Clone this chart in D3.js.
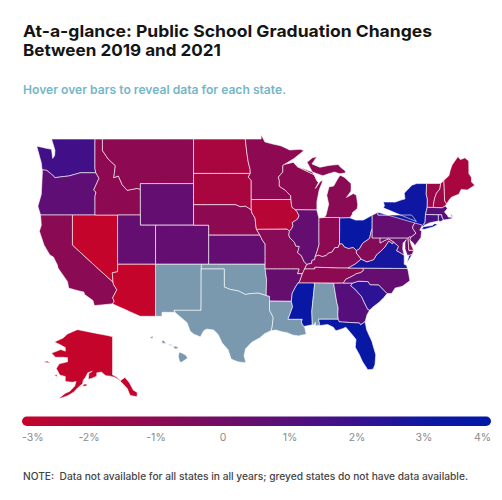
<!DOCTYPE html>
<html><head><meta charset="utf-8"><style>html,body{margin:0;padding:0;background:#fff}svg{display:block}</style>
<script src="https://d3js.org/d3.v7.min.js"></script></head><body><div id="c"></div>
<script>
// ---- chart data ----
const titleLines=["At-a-glance: Public School Graduation Changes","Between 2019 and 2021"];
const subtitle="Hover over bars to reveal data for each state.";
const note="NOTE:  Data not available for all states in all years; greyed states do not have data available.";
const legendValues=[-3,-2,-1,0,1,2,3,4];
const legendLabels=["-3%","-2%","-1%","0","1%","2%","3%","4%"];
const legendColors=["#c5042c","#a9063f","#8d0a52","#700d66","#560f7a","#381190","#0f17a2","#0019a8"];
const stateCodes=["WA","OR","CA","NV","ID","MT","WY","UT","AZ","CO","ND","SD","NE","KS","MN","IA","MO","WI","IL","IN","MI","OH","KY","TN","AR","MS","FL","GA","SC","NC","VA","WV","PA","NY","VT","NH","ME","MA","CT","RI","NJ","DE","MD","AK"];
const stateChanges=[1.7,0.7,-0.9,-3,-1,-1,0.5,0.5,-3,0.5,-2,-2,-1,0.5,-1,-2.5,-0.8,-1,0.5,-1,-0.9,3.5,-0.8,-1,0.4,3.5,3.5,1,2.3,0.5,2.8,-0.7,0.5,3,-1.5,-1.6,-2,1,1.5,1.5,0.4,-1.5,0.5,-3];
const greyStates=["NM","TX","OK","LA","AL","HI"];
const greyColor="#7b99ae";

// ---- geography (lon,lat) ----
const L=s=>s.trim().split(/\s+/).map(p=>p.split(",").map(Number));
const R=a=>a.slice().reverse();
const mnWi=L("-92.1,46.75 -92.29,46.66 -92.29,46.08 -92.88,45.6 -92.75,45.3 -92.75,44.75 -92,44.4 -91.25,43.85 -91.22,43.5");
const wiIa=L("-91.22,43.5 -91.15,43 -91.08,42.75 -90.64,42.51");
const ilIa=L("-90.64,42.51 -90.42,42.33 -90.15,41.93 -90.34,41.6 -91.05,41.25 -90.95,40.95 -91.12,40.67 -91.42,40.38");
const ilMo=L("-91.42,40.38 -91.5,40 -91.37,39.73 -90.73,39.25 -90.6,38.9 -90.12,38.85 -90.2,38.6 -90.35,38.2 -89.85,37.9 -89.5,37.3 -89.13,36.98");
const arTn=L("-89.7,36 -90.1,35.13 -90.3,35");
const arMs=L("-90.3,35 -90.6,34.6 -91.05,33.9 -91.17,33");
const laMs=L("-91.17,33 -91,32.4 -91.6,31 -89.73,31 -89.85,30.67 -89.55,30.18");
const ilKy=L("-89.13,36.98 -88.5,37.1 -88.45,37.4 -88.07,37.5 -88.03,37.8");
const inKy=L("-88.03,37.8 -87.6,37.95 -87.1,37.8 -86.6,37.9 -86.3,38.15 -85.8,38.27 -85.43,38.73 -85,38.75 -84.82,39.1");
const ohKy=L("-84.82,39.1 -84.45,39.1 -84.2,38.8 -83.65,38.63 -83,38.73 -82.6,38.42");
const ohWv=L("-82.6,38.42 -82.2,38.6 -81.75,39.2 -81,39.58 -80.85,39.7 -80.65,40.4 -80.52,40.64");
const kyWv=L("-82.6,38.42 -82.6,38.17 -81.97,37.54");
const kyVa=L("-81.97,37.54 -82.7,37.05 -83.68,36.6");
const kyTn=L("-83.68,36.6 -85,36.6 -86.5,36.65 -88.07,36.68 -88.07,36.5 -89.42,36.5");
const tnNc=L("-81.68,36.59 -81.7,36.3 -82.05,36.1 -82.6,36 -83.1,35.75 -84,35.4 -84.32,34.99");
const vaWv=L("-81.97,37.54 -81.2,37.25 -80.3,37.5 -79.95,38 -79.3,38.42 -78.87,38.77 -78.35,39.4 -77.83,39.13");
const mdVa=L("-77.83,39.13 -77.72,39.32 -77.05,38.85 -77.3,38.4 -76.95,38.27 -76.3,37.95");
const mdWv=L("-77.72,39.32 -78.35,39.63 -78.9,39.45 -79.48,39.2 -79.48,39.72");
const inIl=L("-88.03,37.8 -87.75,38.4 -87.5,39.1 -87.53,39.35 -87.53,41.71");
const mnNd=L("-97.23,49 -97.05,47.9 -96.85,47 -96.6,46.3 -96.57,45.94");
const mnSd=L("-96.57,45.94 -96.85,45.6 -96.45,45.3 -96.45,43.5");
const neSd=L("-104.05,43 -98.5,43 -97.9,42.8 -97.2,42.85 -96.45,42.5");
const neIa=L("-96.45,42.5 -96.35,42.2 -95.95,41.7 -95.85,41 -95.77,40.58");
const neMo=L("-95.77,40.58 -95.3,40");
const ksMo=L("-95.3,40 -95,39.5 -94.62,39.1 -94.62,37");
const mtId=L("-116.05,49 -116.05,48 -115.3,47.25 -114.35,46.65 -114.55,45.55 -113.95,45.7 -113.45,44.9 -112.8,44.37 -111.5,44.55 -111.05,44.47");
const waOr=L("-116.92,46 -118.98,46 -119.3,45.93 -120.5,45.7 -121.2,45.65 -122.3,45.55 -122.8,45.9 -123.4,46.22 -124,46.27");
const orId=L("-117.03,42 -117.03,43.8 -116.9,44.2 -117.2,44.4 -116.5,45.5 -116.92,46");
const caAz=L("-114.65,35.1 -114.6,34.85 -114.15,34.27 -114.7,33.4 -114.5,33 -114.72,32.72");
const nvAz=L("-114.05,37 -114.05,36.2 -114.75,36.1 -114.65,35.1");
const okTx=L("-103.04,36.5 -100,36.5 -100,34.56 -99.2,34.3 -98.1,34.13 -97.2,33.75 -96.6,33.85 -95.5,33.9 -94.48,33.64");
const arOk=L("-94.62,36.5 -94.43,35.4 -94.48,33.64");
const arTx=L("-94.48,33.64 -94.04,33.55 -94.04,33.02");
const laTx=L("-94.04,33.02 -94.04,32 -93.55,31.2 -93.7,30.1 -93.85,29.7");
const msAl=L("-88.2,35 -88.1,34.9 -88.47,31.9 -88.4,30.37");
const alGa=L("-85.6,34.98 -85.18,32.87 -85,32.3 -85.05,31.55 -85,31");
const alFl=L("-85,31 -87.6,31 -87.45,30.5 -87.52,30.28");
const gaFl=L("-85,31 -84.86,30.7 -82.2,30.57 -82.05,30.37 -81.45,30.72");
const gaSc=L("-83.1,35 -83.35,34.7 -82.8,34.35 -81.9,33.5 -81.4,32.6 -81.1,32.1 -80.85,32.03");
const scNc=L("-83.1,35 -82.3,35.2 -81.05,35.15 -80.8,34.82 -79.67,34.8 -78.55,33.86");
const paNj=L("-74.7,41.36 -75.1,41 -75.2,40.7 -74.75,40.2 -75.13,39.95 -75.42,39.8");
const njDe=L("-75.42,39.8 -75.55,39.5");
const deMd=L("-75.79,39.72 -75.7,38.46 -75.05,38.45");
const nyPa=L("-74.7,41.36 -75.05,41.75 -75.35,42 -79.76,42 -79.76,42.27");
const maNy=L("-73.27,42.75 -73.5,42.05");
const ctNy=L("-73.5,42.05 -73.55,41.3 -73.73,41.1 -73.65,41");
const ctMa=L("-73.5,42.05 -71.8,42.02");
const riMa=L("-71.8,42.02 -71.38,42.02 -71.33,41.78 -71.13,41.5");
const vtNy=L("-73.35,45.01 -73.4,44 -73.25,43.55 -73.27,42.75");
const vtNh=L("-71.5,45.01 -71.6,44.5 -72.05,44.1 -72.3,43.6 -72.45,43 -72.46,42.73");
const maNh=L("-72.46,42.73 -71.3,42.7 -70.9,42.88");
const nhMe=L("-71.08,45.3 -71.03,44.65 -70.98,43.4 -70.72,43.08 -70.9,42.88");
const ohMi=L("-84.8,41.7 -83.45,41.73");
const inMi=L("-86.82,41.76 -84.8,41.76 -84.8,41.7");
const wiMi=L("-90.4,46.57 -89.1,46.13 -88.1,45.8 -87.85,45.35 -87.6,45.1");

const shapes={
WA:[[...L("-124.7,48.38 -123.1,48.15 -122.75,48.1 -122.6,47.3 -122.35,47.55 -122.3,48 -122.5,48.45 -122.75,49 -117.03,49 -117.04,46.4"),...waOr,...L("-124.1,46.9")]],
OR:[[...R(waOr),...R(orId),...L("-124.2,42 -124.55,42.85 -124.1,44 -123.95,46.2")]],
CA:[[...L("-124.2,42 -120,42 -120,39"),...caAz,...L("-117.12,32.53 -117.3,33.1 -118.4,33.75 -118.5,34.03 -119.2,34.15 -120.5,34.45 -120.65,35.15 -121.9,36.6 -122,36.95 -122.5,37.75 -123,38 -123.75,39 -124.35,40.4 -124.1,41")]],
NV:[[...L("-120,42 -114.05,42"),...nvAz,...L("-120,39")]],
ID:[[...L("-117.03,49"),...mtId,...L("-111.05,42"),...orId,...L("-117.04,46.4")]],
MT:[[...mtId,...L("-111.05,45 -104.05,45 -104.05,49")]],
WY:[L("-111.05,45 -104.05,45 -104.05,41 -111.05,41")],
UT:[L("-114.05,42 -111.05,42 -111.05,41 -109.05,41 -109.05,37 -114.05,37")],
AZ:[[...nvAz,...caAz.slice(1),...L("-111.07,31.33 -109.05,31.33 -109.05,37")]],
CO:[L("-109.05,41 -102.05,41 -102.05,37 -109.05,37")],
NM:[L("-109.05,37 -103,37 -103.04,36.5 -103.06,32 -106.62,32 -106.5,31.78 -108.2,31.78 -108.2,31.33 -109.05,31.33")],
ND:[[...L("-104.05,49"),...mnNd,...L("-104.05,45.94")]],
SD:[[...L("-104.05,45.94"),...mnSd,...R(neSd)]],
NE:[[...neSd,...neIa,...neMo,...L("-102.05,40 -102.05,41 -104.05,41")]],
KS:[[...L("-102.05,40"),...ksMo,...L("-102.05,37")]],
OK:[[...L("-103,37 -94.62,37"),...arOk,...R(okTx)]],
TX:[[...okTx,...arTx,...laTx,...L("-94.7,29.35 -95.3,28.9 -96.4,28.35 -97.2,27.6 -97.4,26.8 -97.15,25.96 -98.2,26.07 -99.1,26.4 -99.5,27.5 -100.3,28.3 -100.8,29.25 -101.4,29.77 -102.3,29.88 -102.7,29.7 -103.15,28.98 -104,29.3 -104.5,29.65 -104.9,30.6 -106.5,31.78 -106.62,32 -103.06,32")]],
MN:[[...R(mnNd),...L("-95.15,49 -95.15,49.38 -94.65,48.75 -93.5,48.55 -92.5,48.4 -91.4,48.05 -90,48.1 -89.5,48 -90.8,47.3"),...mnWi,...R(mnSd)]],
IA:[[...wiIa,...ilIa,...L("-91.72,40.6"),...R(neIa),...L("-96.45,43.5")]],
MO:[[...L("-91.72,40.6"),...ilMo,...L("-89.42,36.5 -89.7,36 -90.37,36 -90.15,36.5 -94.62,36.5"),...R(ksMo),...R(neMo)]],
AR:[[...L("-94.62,36.5 -90.15,36.5 -90.37,36"),...arTn,...arMs,...L("-94.04,33.02"),...R(arTx),...R(arOk)]],
LA:[[...L("-94.04,33.02"),...laMs,...L("-89.4,30.05 -89.2,29.3 -90.2,29.1 -91,29.2 -91.8,29.5 -92.3,29.55 -93.2,29.77"),...R(laTx)]],
WI:[[...L("-90.9,46.95"),...wiMi,...L("-88,44.55 -87.35,45.2 -87,45.3 -87.5,44.4 -87.8,43.3 -87.8,42.49"),...R(wiIa),...R(mnWi)]],
IL:[[...L("-87.8,42.49 -87.6,41.85"),...R(inIl),...R(ilKy),...R(ilMo),...R(ilIa)]],
IN:[[...inMi,...L("-84.82,39.1"),...R(inKy),...inIl]],
MI:[[...inMi,...L("-83.45,41.73 -83.15,42.05 -83.1,42.25 -82.5,42.6 -82.42,43 -82.6,43.9 -83,44.07 -83.4,43.9 -83.9,43.7 -83.3,44.3 -83.3,45 -84.2,45.6 -84.75,45.78 -85.1,45.4 -85.6,44.77 -86.2,44.7 -86.5,43.9 -86.25,43.05 -86.6,42")],
    [...R(wiMi),...L("-87,45.72 -86.3,45.9 -85.5,46.07 -84.75,45.9 -84,46 -84.1,46.2 -84.6,46.45 -85,46.75 -86.2,46.67 -87.4,46.5 -88.45,46.8 -87.8,47.45 -88.4,47.35 -89.1,46.95")]],
OH:[[...ohMi,...L("-82.7,41.5 -81.7,41.5 -80.52,41.98"),...R(ohWv),...R(ohKy)]],
KY:[[...R(inKy),...R(ilKy),...L("-89.42,36.5"),...R(kyTn),...R(kyVa),...R(kyWv),...R(ohKy)]],
TN:[[...kyTn,...L("-89.7,36"),...arTn,...L("-88.2,35 -85.6,34.98"),...R(tnNc)]],
MS:[[...L("-90.3,35"),...msAl,...R(laMs),...R(arMs)]],
AL:[[...msAl.slice(0,1),...alGa,...alFl,...L("-88,30.25 -88,30.65 -88.15,30.35"),...R(msAl)]],
GA:[[...alGa,...gaFl,...L("-81.2,31.5"),...R(gaSc),...L("-84.32,34.99")]],
FL:[[...R(alFl),...gaFl,...L("-81.25,29.8 -80.55,28.45 -80.05,26.9 -80.15,25.75 -80.4,25.2 -81.1,25.13 -81.8,26.1 -82.2,26.9 -82.75,27.8 -82.65,28.7 -83.4,29.5 -84,30.1 -84.35,29.95 -85.3,29.68 -85.65,30.1 -86.4,30.4")]],
SC:[[...scNc,...L("-79,33.4 -79.6,32.9 -80.45,32.35"),...R(gaSc)]],
NC:[[...L("-84.32,34.99"),...scNc,...L("-77.95,33.87 -77.5,34.45 -76.55,34.65 -75.55,35.25 -75.75,36.2 -75.87,36.55"),...tnNc]],
VA:[[...L("-75.87,36.55 -76,36.9 -76.3,37 -76.3,37.55"),...R(mdVa),...R(vaWv),...kyVa,...L("-81.68,36.59")],L("-75.25,38.03 -75.65,37.95 -75.95,37.15 -75.65,37.5")],
WV:[[...R(ohWv),...kyWv,...vaWv,...mdWv,...L("-80.52,39.72")]],
MD:[[...L("-79.48,39.72"),...deMd,...L("-75.25,38.03 -75.65,37.95 -75.9,37.95 -76.2,38.6 -76.2,39.3 -76,39.55 -76.45,39.2 -76.5,38.6 -76.35,38.1"),...R(mdVa).slice(0,-1),...mdWv]],
DE:[[...deMd,...L("-75.4,39.05"),...R(njDe),...L("-75.6,39.83")]],
PA:[[...L("-80.52,41.98"),...R(nyPa),...paNj,...L("-75.6,39.83 -75.79,39.72 -80.52,39.72")]],
NJ:[[...paNj,...njDe,...L("-75.1,39.2 -74.9,38.93 -74.1,39.75 -74,40.45 -74.25,40.5 -73.9,41")]],
NY:[[...R(nyPa),...L("-79.05,42.7 -78.9,42.9 -79.05,43.27 -77.5,43.25 -76.5,43.5 -76.2,43.55 -76.3,44.1 -75.3,44.85 -74.7,45"),...vtNy,...maNy,...ctNy,...L("-73.9,40.8 -73.9,41")].slice(),L("-74.03,40.6 -73.75,40.85 -72.6,40.97 -72.3,41.15 -71.87,41.07 -72.5,40.82 -73.6,40.58")],
VT:[[...L("-73.35,45.01"),...vtNh,...R(vtNy).slice(0,-1)]],
NH:[[...vtNh,...maNh,...R(nhMe)]],
ME:[[...nhMe.slice(0,1),...L("-70.4,45.75 -70.25,46.2 -70,46.7 -69.23,47.46 -68.9,47.2 -68.3,47.35 -67.8,47.07 -67.78,45.9 -67.45,45.6 -67.45,45.15 -67,44.85 -68,44.4 -68.8,44.45 -69.1,44 -70,43.75 -70.25,43.6"),...R(nhMe).slice(1,-1)]],
MA:[[...maNy,...ctMa,...riMa.slice(1),...L("-70.65,41.55 -70,41.65 -69.95,41.95 -70.2,42.07 -70,41.78 -70.5,41.8 -70.6,41.95 -71,42.3 -70.6,42.65"),...R(maNh)]],
CT:[[...ctMa,...L("-71.8,41.4 -72.9,41.25"),...R(ctNy)]],
RI:[[...riMa,...L("-71.5,41.37 -71.8,41.4")]],
AK:[L("-141,69.65 -141,60.3 -139.5,59.9 -137.5,58.9 -135.5,59.7 -133.5,58.4 -131.8,56.6 -130,56 -130.1,55 -131.5,55.1 -133.2,55.3 -134.5,57 -136.5,58.2 -138,59 -140,59.7 -142,60 -144,60.1 -146,61 -148,60.8 -148,60 -150,59.5 -151.8,59.2 -151.5,60.7 -150,61.2 -152,60.8 -153,59.7 -154,59 -154.3,58.2 -156.5,57.1 -158.5,56 -161,55.2 -163.5,54.7 -164.8,54.6 -162,55.8 -160,56.3 -157.8,57.6 -157.2,58.7 -158.8,58.5 -162,58.7 -162,59.9 -164.5,60.3 -165.3,61.2 -166,61.8 -164.7,63 -161,63.5 -161,64.5 -163,64.6 -166.3,64.6 -168.1,65.6 -164,66.5 -162,66.1 -162,67 -164,67.6 -166.8,68.35 -163,69.3 -161,70.3 -156.6,71.35 -152,70.85 -148,70.4 -144,70"),L("-154.5,57.5 -152.5,57.6 -152.3,58 -153.5,58.1"),L("-171.7,63.4 -168.8,63.2 -170,63.7"),L("-167,60.2 -165.6,59.9 -165.6,60.4")],
HI:[L("-155.9,20.25 -155.1,19.9 -154.8,19.5 -155.65,18.95 -155.9,19.1 -156.05,19.75"),L("-156.7,20.95 -156.3,20.95 -156,20.75 -156.4,20.6 -156.7,20.8"),L("-158.25,21.55 -158,21.7 -157.65,21.3 -158.1,21.3"),L("-159.75,22.1 -159.4,22.2 -159.35,21.95 -159.65,21.9"),L("-157.3,21.2 -156.75,21.15 -156.9,21.05 -157.3,21.08")]
};

// ---- drawing ----
const W=502,H=500;
const svg=d3.select("#c").append("svg").attr("width",W).attr("height",H);
const font="Inter, 'Open Sans', sans-serif";
const titleWidths=[409,198];
svg.selectAll(".t").data(titleLines).join("text").attr("x",23).attr("y",(d,i)=>37+i*19).attr("font-family",font).attr("font-weight",700).attr("font-size",16.6).attr("fill","#151515").attr("textLength",(d,i)=>titleWidths[i]).attr("lengthAdjust","spacingAndGlyphs").text(d=>d);
svg.append("text").attr("x",23).attr("y",94).attr("font-family",font).attr("font-weight",600).attr("font-size",11.7).attr("fill","#74b6c8").attr("textLength",263).attr("lengthAdjust","spacingAndGlyphs").text(subtitle);

const color=d3.scaleLinear().domain(legendValues).range(legendColors).clamp(true);
const byState=new Map(stateCodes.map((c,i)=>[c,stateChanges[i]]));
const lower48=d3.geoMercator().scale(435).translate([983.5,567]);
const alaska=d3.geoProjection((l,p)=>[l,1.82*p]).scale(129).translate([430,622]);
const hawaii=d3.geoMercator().scale(435).translate([1363,509]);
const pathFor=id=>d3.geoPath(id==="AK"?alaska:id==="HI"?hawaii:lower48);
function dens(r){const o=[];const c=r.concat([r[0]]);for(let i=0;i<c.length-1;i++){const [a,b]=c[i],[e,f]=c[i+1];const n=Math.max(1,Math.ceil(Math.hypot(e-a,f-b)/0.5));for(let k=0;k<n;k++)o.push([a+(e-a)*k/n,b+(f-b)*k/n]);}o.push(o[0].slice());
  if(d3.geoArea({type:"Polygon",coordinates:[o]})>2*Math.PI)o.reverse();return o;}
const feats=Object.keys(shapes).map(k=>({type:"Feature",id:k,geometry:{type:"MultiPolygon",coordinates:shapes[k].map(r=>[dens(r)])}}));
svg.append("g").selectAll("path").data(feats).join("path").attr("d",d=>pathFor(d.id)(d))
 .attr("fill",d=>greyStates.includes(d.id)?greyColor:color(byState.get(d.id)))
 .attr("stroke","#fff").attr("stroke-opacity",0.6).attr("stroke-width",1).attr("stroke-linejoin","round")
 .append("title").text(d=>d.id);

// legend
const x=d3.scaleLinear().domain([-3,4]).range([22,491]);
const defs=svg.append("defs");
const g=defs.append("linearGradient").attr("id","lg").attr("x1","0%").attr("x2","100%");
g.selectAll("stop").data(legendValues).join("stop").attr("offset",d=>(x(d)-22)/(491-22)).attr("stop-color",d=>color(d));
svg.append("rect").attr("x",22).attr("y",416.5).attr("width",469).attr("height",9.5).attr("rx",4.75).attr("fill","url(#lg)");
svg.selectAll(".lt").data(legendValues).join("text").attr("y",441).attr("font-family",font).attr("font-size",10.5).attr("fill","#8a8a8a")
 .attr("x",d=>x(d)).attr("text-anchor",(d,i)=>i===0?"start":i===7?"end":"middle").text((d,i)=>legendLabels[i]);
svg.append("text").attr("x",23).attr("y",479.5).attr("font-family",font).attr("font-weight",500).attr("font-size",9.7).attr("fill","#444").attr("textLength",445).attr("lengthAdjust","spacingAndGlyphs").style("white-space","pre").text(note);
</script></body></html>
